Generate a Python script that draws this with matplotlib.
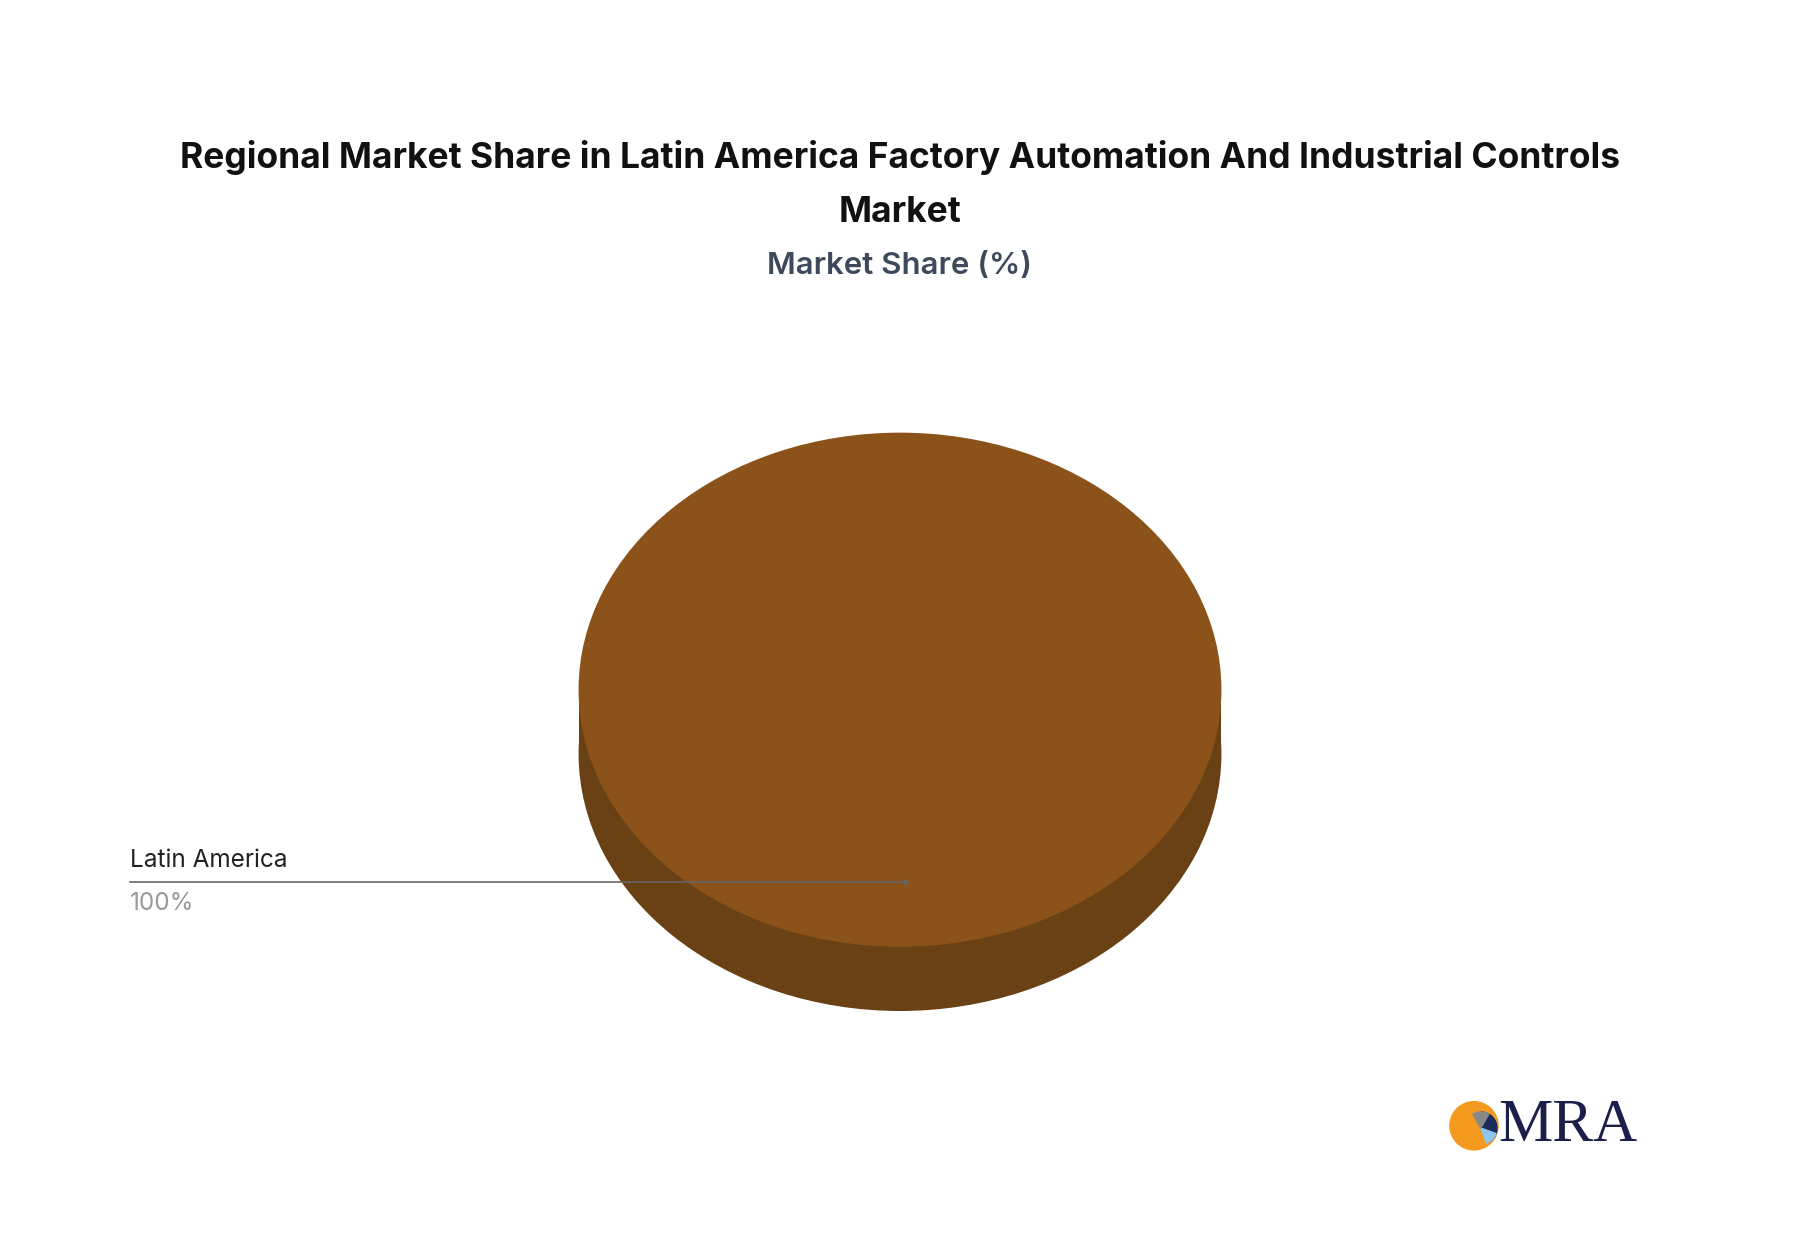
import matplotlib.pyplot as plt
from matplotlib.patches import Rectangle, Circle, Wedge

regions = ['Latin America']
shares = [100]
top_colors = ['#8B5319']
side_colors = ['#6A4114']

W, H = 1568, 1091
fig = plt.figure(figsize=(18, 12.52), dpi=100)
ax = fig.add_axes([0, 0, 1, 1])
ax.set_xlim(0, W)
ax.set_ylim(H, 0)
ax.axis('off')


def fx(x):
    return x / W


def fy(y):
    return 1 - y / H


# pie geometry (in reference pixel units)
cx, cy, rx, ry, depth = 784, 601, 280, 224, 56

# side / depth layer
side_ax = fig.add_axes([fx(cx - rx), fy(cy + depth + ry), 2 * rx / W, 2 * ry / H])
side_ax.pie(shares, colors=side_colors, startangle=90, counterclock=False, radius=1)
side_ax.set_aspect('auto')
side_ax.set_xlim(-1, 1)
side_ax.set_ylim(-1, 1)
side_ax.axis('off')
ax.add_patch(Rectangle((cx - rx, cy), 2 * rx, depth, color=side_colors[0], lw=0))

top_ax = fig.add_axes([fx(cx - rx), fy(cy + ry), 2 * rx / W, 2 * ry / H])
top_ax.pie(shares, colors=top_colors, startangle=90, counterclock=False, radius=1)
top_ax.set_aspect('auto')
top_ax.set_xlim(-1, 1)
top_ax.set_ylim(-1, 1)
top_ax.axis('off')

# overlay axis for labels
lab = fig.add_axes([0, 0, 1, 1])
lab.set_xlim(0, W)
lab.set_ylim(H, 0)
lab.axis('off')
lab.patch.set_alpha(0)

fam = ['Inter', 'DejaVu Sans']
lab.text(784, 137, 'Regional Market Share in Latin America Factory Automation And Industrial Controls',
         ha='center', va='center', fontsize=25.5, fontweight='bold', family=fam, color='#111111')
lab.text(784, 185, 'Market', ha='center', va='center', fontsize=25.5, fontweight='bold',
         family=fam, color='#111111')
lab.text(784, 232, 'Market Share (%)', ha='center', va='center', fontsize=22.5,
         family=fam, color='#3d4a5c', fontweight='semibold')

for name, val in zip(regions, shares):
    lab.text(113, 750, name, ha='left', va='center', fontsize=17.5, family=fam, color='#222222')
    lab.text(113, 787, f'{val}%', ha='left', va='center', fontsize=17.5, family=fam, color='#999999')
    lab.plot([113, 786], [769, 769], color='#666666', lw=1.2)
    lab.plot([788], [769], marker='o', ms=3, color='#666666')

# logo
lab.add_patch(Circle((1284, 981), 21, color='#F39A1F'))
lab.add_patch(Wedge((1290, 983), 14, -90, 60, color='#1B2A5C'))
lab.add_patch(Wedge((1290, 983), 14, 20, 70, color='#8FC7EA'))
lab.add_patch(Wedge((1290, 983), 14, -120, -60, color='#888888'))
lab.text(1366, 981, 'MRA', ha='center', va='center', fontsize=44, family='Liberation Serif',
         color='#1B1F4A')

fig.savefig('out.png', dpi=100, facecolor='white')
